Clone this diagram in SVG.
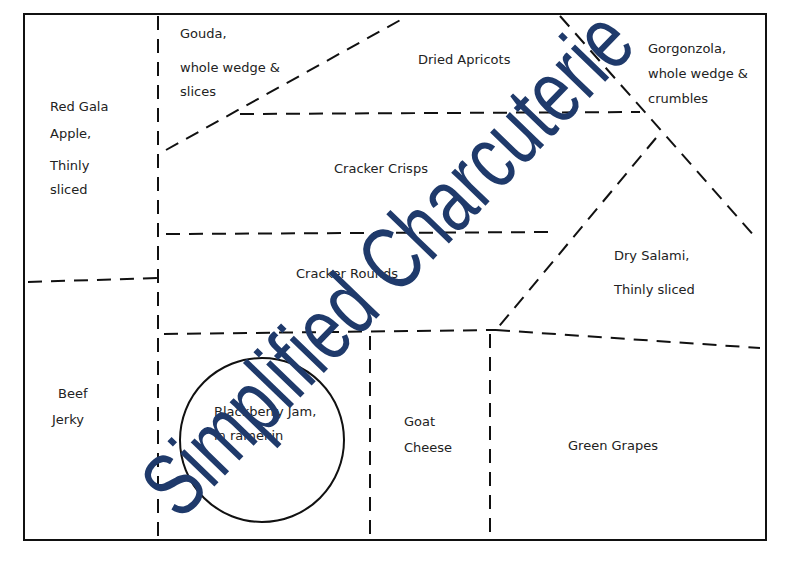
<svg xmlns="http://www.w3.org/2000/svg" width="794" height="564" viewBox="0 0 794 564">
<style>
.d{stroke:#111;stroke-width:2;stroke-dasharray:14 9;fill:none}
.t{font-family:"DejaVu Sans",sans-serif;font-size:13px;fill:#222}
</style>
<rect width="794" height="564" fill="#fff"/>
<rect x="24" y="14" width="742" height="526" fill="none" stroke="#111" stroke-width="2"/>
<g id="connectors">
<line class="d" x1="158" y1="16" x2="158" y2="540"/>
<line class="d" x1="28" y1="282" x2="158" y2="278"/>
<line class="d" x1="166" y1="150" x2="404" y2="18"/>
<line class="d" x1="240" y1="114" x2="640" y2="112"/>
<line class="d" x1="560" y1="16" x2="756" y2="238"/>
<line class="d" x1="166" y1="234" x2="556" y2="232"/>
<line class="d" x1="656" y1="138" x2="496" y2="330"/>
<line class="d" x1="164" y1="334" x2="496" y2="330"/>
<line class="d" x1="496" y1="330" x2="760" y2="348"/>
<line class="d" x1="370" y1="336" x2="370" y2="542"/>
<line class="d" x1="490" y1="334" x2="490" y2="540"/>
</g>
<circle id="ramekin" cx="262" cy="440" r="82" fill="none" stroke="#111" stroke-width="2"/>
<g id="labels" class="t">
<text x="50" y="111">Red Gala</text><text x="50" y="138">Apple,</text><text x="50" y="170">Thinly</text><text x="50" y="194">sliced</text>
<text x="180" y="38">Gouda,</text><text x="180" y="72">whole wedge &amp;</text><text x="180" y="96">slices</text>
<text x="418" y="64">Dried Apricots</text>
<text x="648" y="53">Gorgonzola,</text><text x="648" y="78">whole wedge &amp;</text><text x="648" y="103">crumbles</text>
<text x="334" y="173">Cracker Crisps</text>
<text x="296" y="278">Cracker Rounds</text>
<text x="614" y="260">Dry Salami,</text><text x="614" y="294">Thinly sliced</text>
<text x="58" y="398">Beef</text><text x="52" y="424">Jerky</text>
<text x="214" y="416">Blackberry Jam,</text><text x="214" y="440">in ramekin</text>
<text x="404" y="426">Goat</text><text x="404" y="452">Cheese</text>
<text x="568" y="450">Green Grapes</text>
</g>
<text id="title" transform="translate(180,522) rotate(-46)" font-family="Liberation Sans Narrow,Liberation Sans,sans-serif" font-size="90" fill="#1f3a6b" textLength="660" lengthAdjust="spacingAndGlyphs">Simplified Charcuterie</text>
</svg>
